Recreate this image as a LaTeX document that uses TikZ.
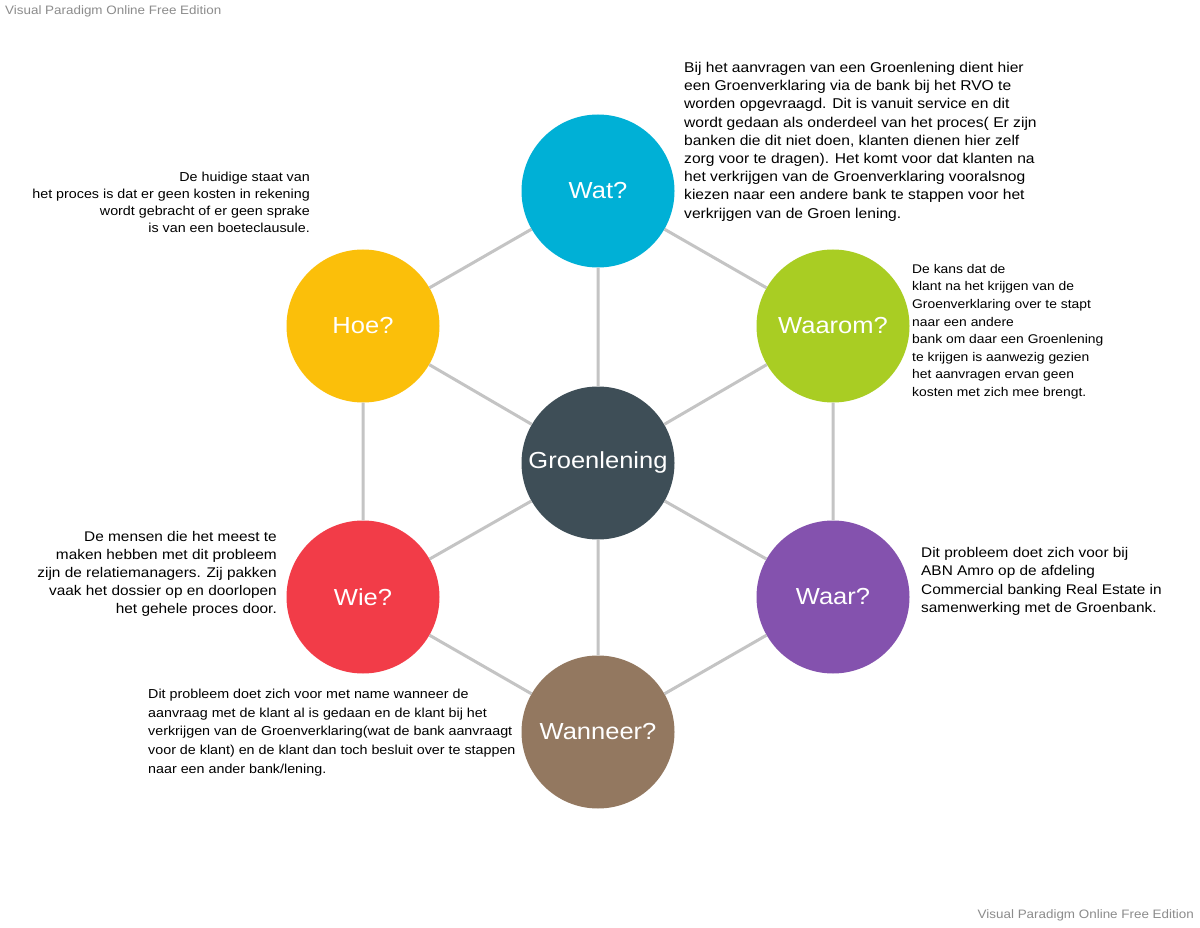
\documentclass[tikz,border=0pt]{standalone}
\usepackage{fontspec}
\setmainfont{Liberation Sans}[FakeStretch=1.1]
\definecolor{cWat}{HTML}{00B0D6}
\definecolor{cWaarom}{HTML}{A9CD23}
\definecolor{cWaar}{HTML}{8452AE}
\definecolor{cWanneer}{HTML}{937860}
\definecolor{cWie}{HTML}{F23C48}
\definecolor{cHoe}{HTML}{FBBF0A}
\definecolor{cCenter}{HTML}{3E4E57}
\definecolor{cLine}{HTML}{C4C4C4}
\definecolor{cMark}{HTML}{8C8C8C}
\tikzset{
  bubble/.style={circle, minimum size=153pt, inner sep=0pt, text=white, font=\fontsize{23.2}{27}\selectfont},
  link/.style={draw=cLine, line width=3pt},
  note/.style={inner sep=0pt, text=black},
  wmark/.style={inner sep=0pt, text=cMark, font=\fontsize{12.2}{14}\selectfont}
}
\begin{document}
\begin{tikzpicture}[x=1pt,y=-1pt]
\useasboundingbox (0,0) rectangle (1200,928);
\fill[white] (0,0) rectangle (1200,928);
\node[bubble, fill=cCenter] (center) at (598,463) {Groenlening};
\node[bubble, fill=cWat] (wat) at (598,191) {Wat?};
\node[bubble, fill=cWaarom] (waarom) at (833,326) {Waarom?};
\node[bubble, fill=cWaar] (waar) at (833,597) {Waar?};
\node[bubble, fill=cWanneer] (wanneer) at (598,732) {Wanneer?};
\node[bubble, fill=cWie] (wie) at (363,597) {Wie?};
\node[bubble, fill=cHoe] (hoe) at (363,326) {Hoe?};
% links
\path[link] (wat) -- (waarom) (waarom) -- (waar) (waar) -- (wanneer) (wanneer) -- (wie) (wie) -- (hoe) (hoe) -- (wat);
\path[link] (center) -- (wat) (center) -- (waarom) (center) -- (waar) (center) -- (wanneer) (center) -- (wie) (center) -- (hoe);
% notes
\node[note, anchor=north west, align=left, font=\fontsize{14.2}{18.2}\selectfont] (tWat) at (684,62) {Bij het aanvragen van een Groenlening dient hier\\een Groenverklaring via de bank bij het RVO te\\worden opgevraagd. Dit is vanuit service en dit\\wordt gedaan als onderdeel van het proces( Er zijn\\banken die dit niet doen, klanten dienen hier zelf\\zorg voor te dragen). Het komt voor dat klanten na\\het verkrijgen van de Groenverklaring vooralsnog\\kiezen naar een andere bank te stappen voor het\\verkrijgen van de Groen lening.};
\node[note, anchor=north east, align=right, font=\fontsize{13}{17}\selectfont] (tHoe) at (310,172) {De huidige staat van\\het proces is dat er geen kosten in rekening\\wordt gebracht of er geen sprake\\is van een boeteclausule.};
\node[note, anchor=north west, align=left, font=\fontsize{12.6}{17.6}\selectfont] (tWaarom) at (912,264) {De kans dat de\\klant na het krijgen van de\\Groenverklaring over te stapt\\naar een andere\\bank om daar een Groenlening\\te krijgen is aanwezig gezien\\het aanvragen ervan geen\\kosten met zich mee brengt.};
\node[note, anchor=north east, align=right, font=\fontsize{14}{18}\selectfont] (tWie) at (277,531) {De mensen die het meest te\\maken hebben met dit probleem\\zijn de relatiemanagers. Zij pakken\\vaak het dossier op en doorlopen\\het gehele proces door.};
\node[note, anchor=north west, align=left, font=\fontsize{14}{18.5}\selectfont] (tWaar) at (921,547) {Dit probleem doet zich voor bij\\ABN Amro op de afdeling\\Commercial banking Real Estate in\\samenwerking met de Groenbank.};
\node[note, anchor=north west, align=left, font=\fontsize{13}{18.6}\selectfont] (tWanneer) at (148,689) {Dit probleem doet zich voor met name wanneer de\\aanvraag met de klant al is gedaan en de klant bij het\\verkrijgen van de Groenverklaring(wat de bank aanvraagt\\voor de klant) en de klant dan toch besluit over te stappen\\naar een ander bank/lening.};
% watermarks
\node[wmark, anchor=north west] (wm1) at (5,5) {Visual Paradigm Online Free Edition};
\node[wmark, anchor=north east] (wm2) at (1194,909) {Visual Paradigm Online Free Edition};
\end{tikzpicture}
\end{document}
